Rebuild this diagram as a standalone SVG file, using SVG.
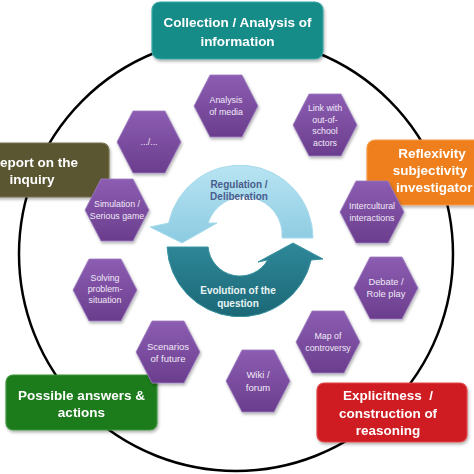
<svg xmlns="http://www.w3.org/2000/svg" xmlns:xlink="http://www.w3.org/1999/xlink" width="474" height="474" viewBox="0 0 474 474">
<defs>
<style>
.box{stroke-width:1.2}
.bt{font-family:"Liberation Sans",Arial,sans-serif;font-weight:bold;font-size:13.5px;fill:#ffffff;text-anchor:middle}
.ht{font-family:"Liberation Sans",Arial,sans-serif;font-size:8.8px;fill:#f1e9f7;text-anchor:middle}
.ct{font-family:"Liberation Sans",Arial,sans-serif;font-weight:bold;font-size:10px;text-anchor:middle}
</style>
<linearGradient id="hexg" x1="0" y1="0" x2="0" y2="1">
<stop offset="0" stop-color="#8c5db2"/>
<stop offset="1" stop-color="#6b3d8d"/>
</linearGradient>
<linearGradient id="lightg" x1="0" y1="0" x2="0" y2="1">
<stop offset="0" stop-color="#b8e4f2"/>
<stop offset="1" stop-color="#8ccbe2"/>
</linearGradient>
<linearGradient id="darkg" x1="0" y1="0" x2="0" y2="1">
<stop offset="0" stop-color="#2e8898"/>
<stop offset="1" stop-color="#1c6877"/>
</linearGradient>
<filter id="sh" x="-10%" y="-10%" width="120%" height="130%">
<feDropShadow dx="1" dy="2" stdDeviation="1.5" flood-color="#000" flood-opacity="0.3"/>
</filter>
<polygon id="hex" points="-32,0 -16,-31 16,-31 32,0 16,31 -16,31" fill="url(#hexg)" stroke="#9d7fc0" stroke-width="0.8" filter="url(#sh)"/>
</defs>
<rect width="474" height="474" fill="#ffffff"/>

<g id="connectors">
<circle cx="236" cy="254" r="217" fill="none" stroke="#000000" stroke-width="2.5"/>
</g>

<g id="cycle">
<g id="regulation">
<path d="M313,238 A73,73 0 0 0 168.6,223 L150,227 L182,243 L217,223 L208,223 A38,38 0 0 1 282,238 Z" fill="url(#lightg)" stroke="#a7dbec" stroke-width="1"/>
<text class="ct" fill="#4a5c8c"><tspan x="239" y="188">Regulation /</tspan><tspan x="239" y="200">Deliberation</tspan></text>
</g>
<g id="evolution">
<path d="M167.1,247 A73,73 0 0 0 311.2,260 L323,259 L293,243 L258,262 L267.7,260 A32,32 0 0 1 208.1,247 Z" fill="url(#darkg)" stroke="#3a93a2" stroke-width="1"/>
<text class="ct" fill="#e8f4f4"><tspan x="238" y="294">Evolution of the</tspan><tspan x="238" y="307">question</tspan></text>
</g>
</g>

<g id="collection" filter="url(#sh)">
<rect class="box" x="152" y="2" width="171" height="57" rx="8" fill="#178c89" stroke="#3aa7a3"/>
<text class="bt"><tspan x="237.5" y="27">Collection / Analysis of</tspan><tspan x="237.5" y="46">information</tspan></text>
</g>

<g id="report" filter="url(#sh)">
<rect class="box" x="-30" y="143" width="139" height="54" rx="7" fill="#5a5632" stroke="#77734e"/>
<text class="bt"><tspan x="39" y="167">eport on the</tspan><tspan x="32" y="184">inquiry</tspan></text>
</g>

<g id="reflexivity" filter="url(#sh)">
<rect class="box" x="367" y="140" width="130" height="65" rx="8" fill="#ef7f1b" stroke="#f59a4a"/>
<text class="bt"><tspan x="432" y="158">Reflexivity</tspan><tspan x="430" y="175">subjectivity</tspan><tspan x="396" y="192" text-anchor="start">investigator</tspan></text>
</g>

<g id="answers" filter="url(#sh)">
<rect class="box" x="6" y="375" width="151" height="55" rx="7" fill="#1f7b1f" stroke="#3e963e"/>
<text class="bt"><tspan x="81.5" y="400">Possible answers &amp;</tspan><tspan x="81.5" y="417">actions</tspan></text>
</g>

<g id="explicitness" filter="url(#sh)">
<rect class="box" x="317" y="383" width="150" height="59" rx="7" fill="#cf1a20" stroke="#e0484d"/>
<text class="bt" xml:space="preserve"><tspan x="388" y="400">Explicitness  /</tspan><tspan x="388" y="418">construction of</tspan><tspan x="388" y="435">reasoning</tspan></text>
</g>

<g id="hex-media"><use xlink:href="#hex" x="226" y="106"/><text class="ht"><tspan x="226" y="102.5">Analysis</tspan><tspan x="226" y="114.5">of  media</tspan></text></g>
<g id="hex-link"><use xlink:href="#hex" x="325" y="125"/><text class="ht"><tspan x="325" y="111">Link with</tspan><tspan x="325" y="122.5">out-of-</tspan><tspan x="325" y="134">school</tspan><tspan x="325" y="145.5">actors</tspan></text></g>
<g id="hex-etc"><use xlink:href="#hex" x="149" y="142"/><text class="ht"><tspan x="149" y="145">.../...</tspan></text></g>
<g id="hex-simulation"><use xlink:href="#hex" x="117" y="210"/><text class="ht"><tspan x="117" y="206.5">Simulation /</tspan><tspan x="117" y="218.5">Serious game</tspan></text></g>
<g id="hex-solving"><use xlink:href="#hex" x="105" y="290"/><text class="ht"><tspan x="105" y="281">Solving</tspan><tspan x="105" y="292">problem-</tspan><tspan x="105" y="303">situation</tspan></text></g>
<g id="hex-scenarios"><use xlink:href="#hex" x="168" y="352"/><text class="ht" style="font-size:9.5px"><tspan x="168" y="350">Scenarios</tspan><tspan x="168" y="362">of future</tspan></text></g>
<g id="hex-wiki"><use xlink:href="#hex" x="258" y="381"/><text class="ht" style="font-size:9.5px"><tspan x="258" y="378">Wiki /</tspan><tspan x="258" y="390.5">forum</tspan></text></g>
<g id="hex-map"><use xlink:href="#hex" x="328" y="342"/><text class="ht"><tspan x="328" y="338.5">Map of</tspan><tspan x="328" y="350.5">controversy</tspan></text></g>
<g id="hex-debate"><use xlink:href="#hex" x="386" y="288"/><text class="ht" style="font-size:9.3px"><tspan x="386" y="284.5">Debate /</tspan><tspan x="386" y="297">Role play</tspan></text></g>
<g id="hex-intercultural"><use xlink:href="#hex" x="372" y="212"/><text class="ht"><tspan x="372" y="208.5">Intercultural</tspan><tspan x="372" y="220.5">interactions</tspan></text></g>
</svg>
